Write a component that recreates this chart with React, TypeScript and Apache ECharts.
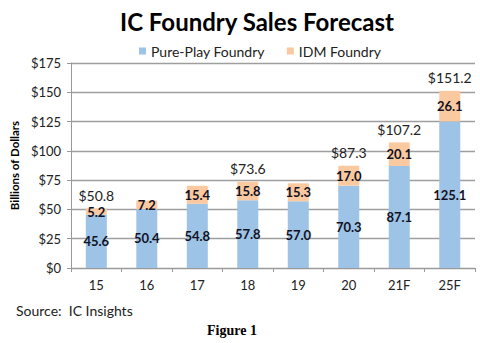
import React, { useEffect, useRef } from "react";
import * as echarts from "echarts";

const years = ["15", "16", "17", "18", "19", "20", "21F", "25F"];
const purePlay = [45.6, 50.4, 54.8, 57.8, 57.0, 70.3, 87.1, 125.1];
const idm = [5.2, 7.2, 15.4, 15.8, 15.3, 17.0, 20.1, 26.1];
// Total callouts shown above selected bars (null = no callout)
const totalLabels: (string | null)[] = ["$50.8", null, null, "$73.6", null, "$87.3", "$107.2", "$151.2"];

const FONT = "Lato, 'Open Sans', sans-serif";

export default function App() {
  const ref = useRef<HTMLDivElement>(null);
  useEffect(() => {
    if (!ref.current) return;
    const chart = echarts.init(ref.current, undefined, { renderer: "svg" });
    const segLabel = {
      show: true,
      position: "inside" as const,
      fontFamily: FONT,
      fontWeight: "bold" as const,
      fontSize: 13,
      color: "#111122",
      formatter: (p: any) => Number(p.value).toFixed(1),
    };
    chart.setOption({
      animation: false,
      textStyle: { fontFamily: FONT },
      title: [
        {
          text: "IC Foundry Sales Forecast",
          left: 252,
          textAlign: "center",
          top: 4,
          textStyle: { fontFamily: FONT, fontSize: 24, fontWeight: "bold", color: "#000" },
        },
      ],
      legend: {
        top: 39,
        left: 134,
        itemWidth: 7,
        itemHeight: 7,
        itemGap: 22,
        data: ["Pure-Play Foundry", "IDM Foundry"],
        icon: "rect",
        textStyle: { fontFamily: FONT, fontSize: 14, color: "#222" },
      },
      grid: { left: 62, right: 5, top: 63, bottom: 75 },
      xAxis: {
        type: "category",
        data: years,
        axisLine: { lineStyle: { color: "#999", width: 1 } },
        axisTick: { show: true, alignWithLabel: false, length: 4, lineStyle: { color: "#999" } },
        axisLabel: { fontFamily: FONT, fontSize: 13, color: "#222", margin: 10 },
      },
      yAxis: {
        type: "value",
        min: 0,
        max: 175,
        interval: 25,
        name: "Billions of Dollars",
        nameLocation: "middle",
        nameGap: 49,
        nameTextStyle: { fontFamily: FONT, fontSize: 11.5, fontWeight: "bold", color: "#000" },
        axisLine: { show: true, lineStyle: { color: "#999" } },
        axisTick: { show: true, length: 4, lineStyle: { color: "#999" } },
        axisLabel: { fontFamily: FONT, fontSize: 13, color: "#222", formatter: (v: number) => "$" + v, margin: 10 },
        splitLine: { lineStyle: { color: "#9e9e9e", width: 1.3 } },
      },
      series: [
        {
          name: "Pure-Play Foundry",
          type: "bar",
          stack: "s",
          barWidth: 21,
          data: purePlay,
          itemStyle: { color: "#9dc3e6" },
          label: segLabel,
        },
        {
          name: "IDM Foundry",
          type: "bar",
          stack: "s",
          data: idm,
          itemStyle: { color: "#fbc9a0" },
          label: segLabel,
        },
        {
          name: "Total",
          type: "bar",
          stack: "s",
          data: years.map(() => 0),
          itemStyle: { color: "transparent" },
          label: {
            show: true,
            position: "top",
            distance: 6,
            fontFamily: FONT,
            fontSize: 14,
            color: "#222",
            overflow: "none",
            formatter: (p: any) => totalLabels[p.dataIndex] ?? "",
          },
        },
      ],
      graphic: [
        {
          type: "text",
          left: 16,
          top: 303,
          style: { text: "Source:  IC Insights", font: `14px ${FONT}`, fill: "#222" },
        },
        {
          type: "text",
          left: 207,
          top: 323,
          style: { text: "Figure 1", font: "bold 14px 'Liberation Serif', serif", fill: "#000" },
        },
      ],
    });
    return () => chart.dispose();
  }, []);
  return (
    <div
      ref={ref}
      style={{ position: "absolute", left: 0, top: 0, width: 480, height: 343 }}
    />
  );
}
